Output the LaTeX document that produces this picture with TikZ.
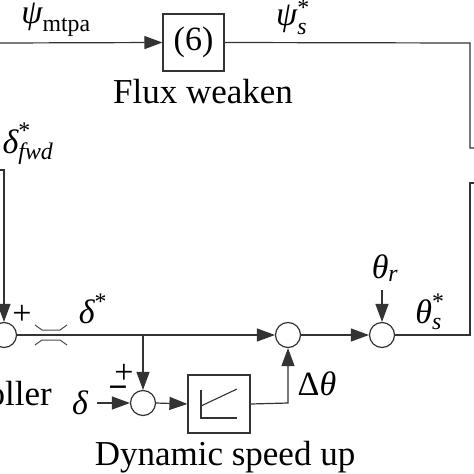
\documentclass[tikz,border=0pt]{standalone}
\usepackage{amsmath}
\usepackage{fontspec}
\setmainfont{Liberation Serif}
\usetikzlibrary{arrows.meta}
\tikzset{
  ln/.style={draw=black!80, line width=1.2pt},
  arr/.style={ln, -{Triangle[length=18pt,width=13pt]}},
  sumc/.style={circle, draw=black!80, line width=1.2pt, minimum size=25pt, inner sep=0pt},
  blk/.style={draw=black!80, line width=1.2pt, inner sep=0pt},
  lbl/.style={inner sep=0pt, font=\fontsize{34}{37}\selectfont},
  big/.style={inner sep=0pt, font=\fontsize{35}{38}\selectfont},
}
\begin{document}
\begin{tikzpicture}[x=1pt,y=-1pt]
\useasboundingbox (0,0) rectangle (474,474);
\clip (0,0) rectangle (474,474);
% blocks
\node[blk, minimum width=61pt, minimum height=57pt, lbl] (b6) at (193.5,42.5) {(6)};
\node[blk, minimum width=62pt, minimum height=58pt] (ramp) at (219,404) {};
\draw[black!80, line width=1.1pt] (201,390) -- (201,418) -- (237,418);
\draw[black!80, line width=1.1pt] (201,406) -- (237,389);
% sum circles
\node[sumc] (s0) at (4,335) {};
\node[sumc] (s1) at (288,335) {};
\node[sumc] (s2) at (382,335) {};
\node[sumc] (s3) at (143,403) {};
% coordinates
\coordinate (inA) at (0,43);
\coordinate (rA) at (470,43);
\coordinate (rB) at (470,148);
\coordinate (rBe) at (480,148);
\coordinate (rC) at (470,183);
\coordinate (rCe) at (480,183);
\coordinate (rD) at (470,335);
\coordinate (fw0) at (-5,170);
\coordinate (fw1) at (4,170);
\coordinate (br) at (143,335);
\coordinate (dl) at (97,403);
\coordinate (dt) at (288,403);
\coordinate (thr) at (382,290);
% connectors
\draw[arr] (inA) -- (b6.west);
\draw[ln] (b6.east) -- (rA) -- (rB) -- (rBe);
\draw[arr] (fw0) -- (fw1) -- (s0.north);
\draw[arr] (s0.east) -- (s1.west);
\draw[arr] (br) -- (s3.north);
\draw[arr] (dl) -- (s3.west);
\draw[arr] (s3.east) -- (ramp.west);
\draw[arr] (ramp.east) -- (dt) -- (s1.south);
\draw[arr] (s1.east) -- (s2.west);
\draw[arr] (thr) -- (s2.north);
\draw[ln] (s2.east) -- (rD) -- (rC) -- (rCe);
% switch symbol
\draw[black!70, line width=1pt] (35,325) -- (42,330) -- (60,330) -- (67,325);
\draw[black!70, line width=1pt] (35,345) -- (42,340) -- (60,340) -- (67,345);
% labels
\node[lbl] (l1) at (56,20) {$\textit{ψ}_{\text{mtpa}}$};
\node[lbl] (l2) at (293,17) {$\textit{ψ}^{\text{*}}_{\textit{s}}$};
\node[big, anchor=base] (l3) at (203,103) {Flux weaken};
\node[lbl] (l4) at (28,144) {$\textit{δ}^{\text{*}}_{\textit{fwd}}$};
\node[lbl] (l5) at (22,315) {+};
\node[lbl] (l6) at (93,309) {$\textit{δ}^{\text{*}}$};
\node[lbl] (l7) at (385,268) {$\textit{θ}_{\textit{r}}$};
\node[lbl] (l8) at (430,312) {$\textit{θ}^{\text{*}}_{\textit{s}}$};
\node[big, anchor=base east] (l9) at (52,405) {Controller};
\node[lbl] (l10) at (80,403) {$\textit{δ}$};
\node[lbl] (l11) at (124,374) {+};
\node[lbl] (l12) at (118,392) {\textbf{−}};
\node[lbl] (l13) at (317,384) {Δ\textit{θ}};
\node[big, anchor=base] (l14) at (225,465) {Dynamic speed up};
\end{tikzpicture}
\end{document}
